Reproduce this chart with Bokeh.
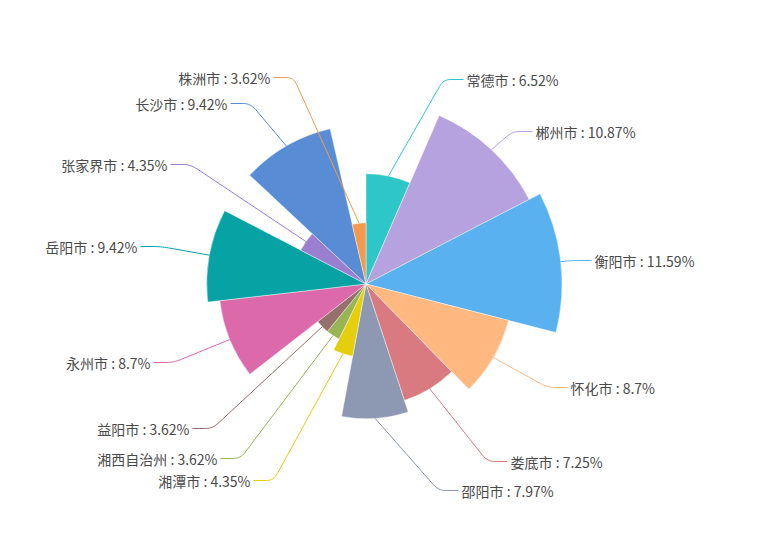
import math
from bokeh.plotting import figure
from bokeh.models import Range1d
from bokeh.core.properties import value
from bokeh.embed import file_html
from bokeh.resources import INLINE

# ---- data ----
cities = ["常德市", "郴州市", "衡阳市", "怀化市", "娄底市", "邵阳市", "湘潭市",
          "湘西自治州", "益阳市", "永州市", "岳阳市", "张家界市", "长沙市", "株洲市"]
percents = [6.52, 10.87, 11.59, 8.7, 7.25, 7.97, 4.35, 3.62, 3.62, 8.7, 9.42, 4.35, 9.42, 3.62]
colors = ["#2ec7c9", "#b6a2de", "#5ab1ef", "#ffb980", "#d87a80", "#8d98b3", "#e5cf0d",
          "#97b552", "#95706d", "#dc69aa", "#07a2a4", "#9a7fd1", "#588dd5", "#f5994e"]

# ---- layout (page pixel coords) ----
W, H = 744, 535
CX, CY = 365.5, 283.5
RMAX = 196.0
# label elbow points (page coords) and side
elbows = [(443, 79), (512, 131), (571, 260), (547, 387), (487, 461), (438, 490), (273, 480),
          (240, 458), (212, 428), (173, 362), (160, 246), (190, 164), (250, 103), (293, 77)]
sides = ["r", "r", "r", "r", "r", "r", "l", "l", "l", "l", "l", "l", "l", "l"]
HLEN = 20
GAP = 3


def Y(py):
    return 551 - py


p = figure(width=W, height=H, x_range=Range1d(0, W), y_range=Range1d(551 - H, 551),
           output_backend="svg", toolbar_location=None, min_border=0)
p.axis.visible = False
p.grid.visible = False
p.outline_line_color = None
p.background_fill_color = "white"

total = sum(percents)
vmax = max(percents)
cum = 0.0
xs_lines, ys_lines, line_cols = [], [], []
tx, ty, tt, talign = [], [], [], []
for i, v in enumerate(percents):
    a0 = cum / total * 2 * math.pi
    cum += v
    a1 = cum / total * 2 * math.pi
    r = RMAX * v / vmax
    p.wedge(x=CX, y=Y(CY), radius=r, start_angle=math.pi / 2 - a1, end_angle=math.pi / 2 - a0,
            fill_color=colors[i], line_color="white", line_width=0.6, line_alpha=0.7)
    am = (a0 + a1) / 2
    ex, ey = CX + r * math.sin(am), CY - r * math.cos(am)
    bx, by = elbows[i]
    sgn = 1 if sides[i] == "r" else -1
    hx = bx + sgn * HLEN
    # rounded corner
    dx, dy = ex - bx, ey - by
    d = math.hypot(dx, dy)
    k = min(0.5, 8 / d) if d > 0 else 0
    p1 = (bx + dx * k, by + dy * k)
    p2 = (bx + sgn * 7, by)
    pts = [(ex, ey), p1]
    for j in range(1, 9):
        t = j / 8
        qx = (1 - t) ** 2 * p1[0] + 2 * (1 - t) * t * bx + t ** 2 * p2[0]
        qy = (1 - t) ** 2 * p1[1] + 2 * (1 - t) * t * by + t ** 2 * p2[1]
        pts.append((qx, qy))
    pts.append((hx, by))
    xs_lines.append([q[0] for q in pts])
    ys_lines.append([Y(q[1]) for q in pts])
    line_cols.append(colors[i])
    tx.append(hx + sgn * GAP)
    ty.append(Y(by))
    tt.append(f"{cities[i]} : {v}%")
    talign.append("left" if sgn > 0 else "right")

p.multi_line(xs=xs_lines, ys=ys_lines, line_color=line_cols, line_width=1)

for x, y, t, al in zip(tx, ty, tt, talign):
    p.text(x=[x], y=[y], text=[t], text_align=al, text_baseline="middle",
           text_font=value("Noto Sans CJK SC"), text_font_size="14px", text_color="#4a4a4a")

open("out.html", "w").write(file_html(p, INLINE))
